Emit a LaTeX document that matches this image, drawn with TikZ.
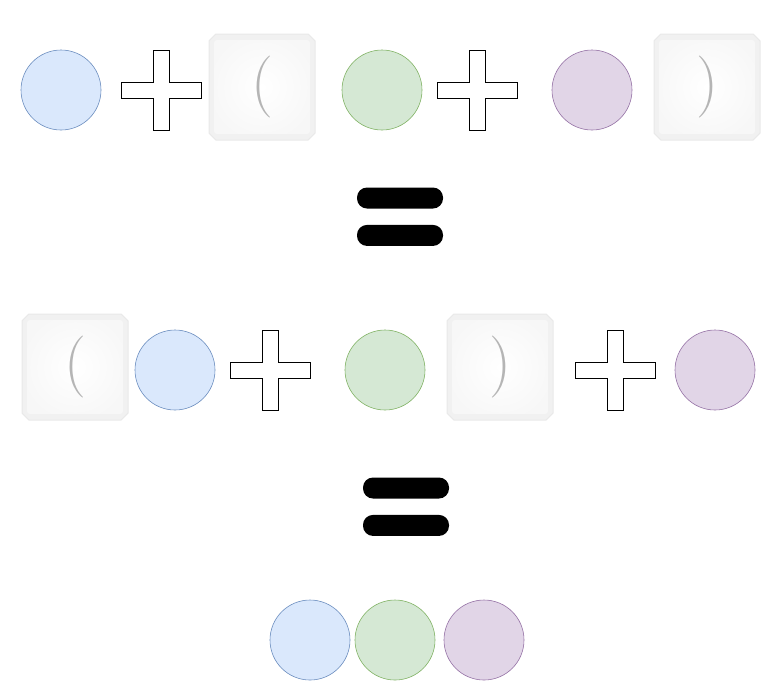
\documentclass[tikz,border=0pt]{standalone}
\usepackage{tikz}
\usetikzlibrary{shapes,positioning}

\definecolor{blueFill}{HTML}{DAE8FC}
\definecolor{blueLine}{HTML}{6C8EBF}
\definecolor{greenFill}{HTML}{D5E8D4}
\definecolor{greenLine}{HTML}{82B366}
\definecolor{purpleFill}{HTML}{E1D5E7}
\definecolor{purpleLine}{HTML}{9673A6}

\tikzset{
  ball/.style={circle,minimum size=80pt,inner sep=0pt,line width=0.6pt},
  blueball/.style={ball,fill=blueFill,draw=blueLine},
  greenball/.style={ball,fill=greenFill,draw=greenLine},
  purpleball/.style={ball,fill=purpleFill,draw=purpleLine},
  keycap/.style={chamfered rectangle,chamfered rectangle xsep=4pt,
    minimum width=106pt,minimum height=106pt,inner sep=0pt,
    fill=gray!11,draw=gray!17,line width=1pt,text=gray!58,
    font=\fontsize{62}{62}\selectfont,
    path picture={\shade[inner color=white,outer color=gray!6,rounded corners=3pt]
      ([shift={(5pt,-6pt)}]path picture bounding box.north west) rectangle
      ([shift={(-5pt,6pt)}]path picture bounding box.south east);}},
  plusbox/.style={minimum size=80pt,inner sep=0pt},
  eqbar/.style={rectangle,rounded corners=10pt,minimum width=86pt,
    minimum height=21pt,inner sep=0pt,fill=black}
}

% plus sign drawn round a named node
\newcommand{\plussign}[1]{%
  \draw[line width=0.9pt,fill=white] (#1.center)
    ++(-40pt,8pt) -- ++(32pt,0pt) -- ++(0pt,32pt) -- ++(16pt,0pt)
    -- ++(0pt,-32pt) -- ++(32pt,0pt) -- ++(0pt,-16pt) -- ++(-32pt,0pt)
    -- ++(0pt,-32pt) -- ++(-16pt,0pt) -- ++(0pt,32pt) -- ++(-32pt,0pt) -- cycle;}
\newcommand{\keytext}[1]{\raisebox{-4pt}{#1}}

\begin{document}
\begin{tikzpicture}[x=1pt,y=-1pt]
  \useasboundingbox (0,0) rectangle (783,681);

  % first line
  \node[blueball]   (top blue)   at (61,90)  {};
  \node[plusbox]    (top plus 1) at (161,90) {};
  \node[keycap]     (top open)   at (262,87) {\keytext{(}};
  \node[greenball]  (top green)  at (382,90) {};
  \node[plusbox]    (top plus 2) at (477,90) {};
  \node[purpleball] (top purple) at (592,90) {};
  \node[keycap]     (top close)  at (707,87) {\keytext{)}};
  \plussign{top plus 1}
  \plussign{top plus 2}

  % first equals
  \node[eqbar] (eq 1 a) at (400,198) {};
  \node[eqbar] (eq 1 b) [below=16pt of eq 1 a] {};

  % second line
  \node[keycap]     (mid open)   at (75,367)  {\keytext{(}};
  \node[blueball]   (mid blue)   at (175,370) {};
  \node[plusbox]    (mid plus 1) at (270,370) {};
  \node[greenball]  (mid green)  at (385,370) {};
  \node[keycap]     (mid close)  at (500,367) {\keytext{)}};
  \node[plusbox]    (mid plus 2) at (615,370) {};
  \node[purpleball] (mid purple) at (715,370) {};
  \plussign{mid plus 1}
  \plussign{mid plus 2}

  % second equals
  \node[eqbar] (eq 2 a) at (406,488) {};
  \node[eqbar] (eq 2 b) [below=16pt of eq 2 a] {};

  % result
  \node[blueball]   (res blue)   at (310,640) {};
  \node[greenball]  (res green)  at (395,640) {};
  \node[purpleball] (res purple) at (484,640) {};
\end{tikzpicture}
\end{document}
